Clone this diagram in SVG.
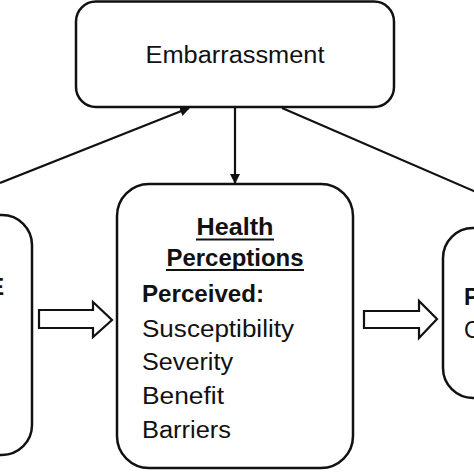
<svg xmlns="http://www.w3.org/2000/svg" width="474" height="474" viewBox="0 0 474 474">
<style>
.box{fill:#fff;stroke:#111;stroke-width:2.5}
.t{font-family:"Liberation Sans",Arial,sans-serif;font-size:23px;fill:#111}
.b{font-weight:bold}
.ln{stroke:#111;stroke-width:2.2;fill:none}
.blk{fill:#fff;stroke:#111;stroke-width:2.2;stroke-linejoin:miter}
</style>
<defs>
<marker id="ah" markerWidth="10" markerHeight="10" refX="9" refY="5" orient="auto" markerUnits="userSpaceOnUse">
<path d="M0,0 L10,5 L0,10 Z" fill="#111"/>
</marker>
</defs>
<rect width="474" height="474" fill="#fff"/>
<g id="connectors">
<line class="ln" x1="0" y1="183" x2="189" y2="108" marker-end="url(#ah)"/>
<line class="ln" x1="235" y1="107" x2="235" y2="183" marker-end="url(#ah)"/>
<line class="ln" x1="282" y1="108" x2="476" y2="192"/>
<path class="blk" d="M39,310 L93,310 L93,302 L112,320 L93,337 L93,328 L39,328 Z"/>
<path class="blk" d="M364,311 L419,311 L419,301 L437,319 L419,338 L419,328 L364,328 Z"/>
</g>
<g id="embarrassment">
<rect class="box" x="76" y="1.5" width="318" height="105.5" rx="20"/>
<text class="t" x="235" y="63" text-anchor="middle" font-size="25" textLength="179" lengthAdjust="spacingAndGlyphs">Embarrassment</text>
</g>
<g id="left-node">
<rect class="box" x="-60" y="215" width="92" height="240" rx="30"/>
<text class="t b" x="4" y="295" text-anchor="end">E</text>
</g>
<g id="health-perceptions">
<rect class="box" x="117" y="184" width="236" height="284" rx="32"/>
<text class="t b" x="235" y="235" text-anchor="middle" textLength="77" lengthAdjust="spacingAndGlyphs">Health</text>
<line x1="196" y1="239.5" x2="274" y2="239.5" stroke="#111" stroke-width="2"/>
<text class="t b" x="235" y="266" text-anchor="middle" textLength="137" lengthAdjust="spacingAndGlyphs">Perceptions</text>
<line x1="166" y1="270" x2="304" y2="270" stroke="#111" stroke-width="2"/>
<text class="t b" x="142" y="302" textLength="122" lengthAdjust="spacingAndGlyphs">Perceived:</text>
<text class="t" x="142" y="337" textLength="152" lengthAdjust="spacingAndGlyphs">Susceptibility</text>
<text class="t" x="142" y="370" textLength="91" lengthAdjust="spacingAndGlyphs">Severity</text>
<text class="t" x="142" y="404" textLength="82" lengthAdjust="spacingAndGlyphs">Benefit</text>
<text class="t" x="142" y="438" textLength="89" lengthAdjust="spacingAndGlyphs">Barriers</text>
</g>
<g id="right-node">
<rect class="box" x="443" y="228" width="100" height="170" rx="30"/>
<text class="t b" x="464" y="305">P</text>
<text class="t" x="464" y="338">C</text>
</g>
</svg>
